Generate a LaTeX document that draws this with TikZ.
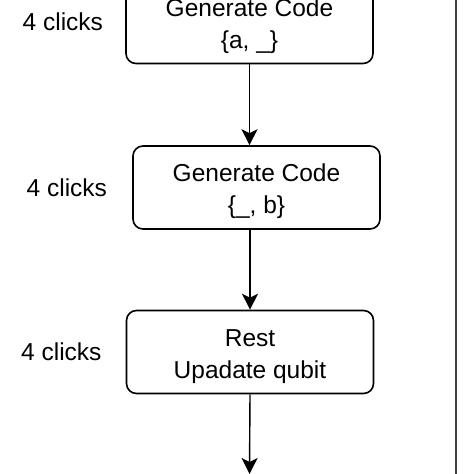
\documentclass[tikz,border=0pt]{standalone}
\usepackage{fontspec}
\setmainfont{Liberation Sans}
\usetikzlibrary{arrows.meta}
\usetikzlibrary{positioning}

\newcommand{\lift}{\rule{0pt}{26pt}}

\begin{document}
\begin{tikzpicture}[
	x=1pt, y=-1pt,
	every node/.style={
		font=\fontsize{24.5}{32}\selectfont
	},
	stage/.style={
		draw=black,
		line width=1.6pt,
		rounded corners=10pt,
		align=center,
		minimum width=247pt,
		minimum height=83pt,
		inner sep=0pt
	},
	clicks/.style={inner sep=0pt},
	flow/.style={
		line width=1.4pt,
		-{Stealth[length=16pt, width=16pt, inset=4pt]}
	}
]
\useasboundingbox (0,0) rectangle (474,474);

\node[stage] (G1) at (249.5,22) {\lift Generate Code\\\{a, \_\}};
\node[stage] (G2) at (256.5,187.5) {\lift Generate Code\\\{\_, b\}};
\node[stage] (R3) at (250,352) {\lift Rest\\Upadate qubit};

\node[clicks, left=22pt of G1] (C1) {4 clicks};
\node[clicks, left=25pt of G2] (C2) {4 clicks};
\node[clicks, left=24pt of R3] (C3) {4 clicks};

\coordinate (End) at (249.5,474);
\coordinate (Top) at (456,0);
\coordinate (Bottom) at (456,474);

\draw[flow] (G1.south) -- (G1.south |- G2.north);
\draw[flow] (R3.north |- G2.south) -- (R3.north);
\draw[flow] (R3.south) -- (End);
\draw[line width=1.5pt, black!75] (Top) -- (Bottom);
\end{tikzpicture}
\end{document}
